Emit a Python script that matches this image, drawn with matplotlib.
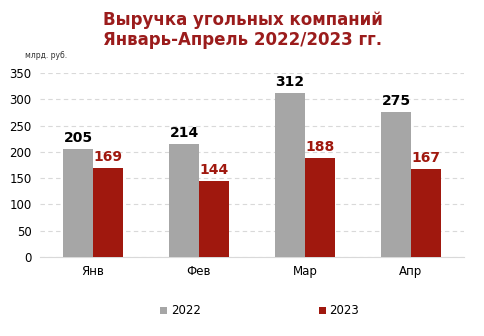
import matplotlib
matplotlib.use("Agg")
import matplotlib.pyplot as plt
import numpy as np

categories = ["Янв", "Фев", "Мар", "Апр"]
v2022 = [205, 214, 312, 275]
v2023 = [169, 144, 188, 167]
series_labels = ["2022", "2023"]
yticks = [0, 50, 100, 150, 200, 250, 300, 350]

c_gray = "#a6a6a6"
c_red = "#a0180e"

fig = plt.figure(figsize=(4.85, 3.36), dpi=100)
ax = fig.add_axes([40/485, (336-257)/336, (464-40)/485, (257-73)/336])

x = np.arange(len(categories))
w = 0.28
b1 = ax.bar(x - w/2, v2022, w, color=c_gray, label=series_labels[0], zorder=3)
b2 = ax.bar(x + w/2, v2023, w, color=c_red, label=series_labels[1], zorder=3)

for xi, v in zip(x, v2022):
    ax.text(xi - w/2, v + 8, str(v), ha="center", va="bottom", fontsize=10,
            fontweight="bold", color="black")
for xi, v in zip(x, v2023):
    ax.text(xi + w/2, v + 8, str(v), ha="center", va="bottom", fontsize=10,
            fontweight="bold", color=c_red)

ax.set_xlim(-0.5, len(categories) - 0.5)
ax.set_ylim(0, 350)
ax.set_yticks(yticks)
ax.set_xticks(x)
ax.set_xticklabels(categories)
ax.tick_params(axis="both", length=0, labelsize=8.5, pad=6)
ax.yaxis.grid(True, linestyle=(0, (4, 3)), color="#d9d9d9", linewidth=0.8, zorder=0)
for s in ["top", "right", "left"]:
    ax.spines[s].set_visible(False)
ax.spines["bottom"].set_color("#d9d9d9")

fig.text(0.5, 1 - 20/336, "Выручка угольных компаний", ha="center", va="center",
         fontsize=12, fontweight="bold", color="#9b1c1c")
fig.text(0.5, 1 - 40/336, "Январь-Апрель 2022/2023 гг.", ha="center", va="center",
         fontsize=12, fontweight="bold", color="#9b1c1c")
fig.text(25/485, 1 - 56/336, "млрд. руб.", ha="left", va="center", fontsize=5.5,
         color="#333333")

fig.legend(handles=[b1, b2], labels=series_labels, loc="center",
           bbox_to_anchor=(0.535, 1 - 311/336), ncol=2, frameon=False,
           fontsize=8.5, handlelength=0.6, handleheight=0.6, columnspacing=10,
           handletextpad=0.3)

fig.savefig("out.png", dpi=100, facecolor="white")
